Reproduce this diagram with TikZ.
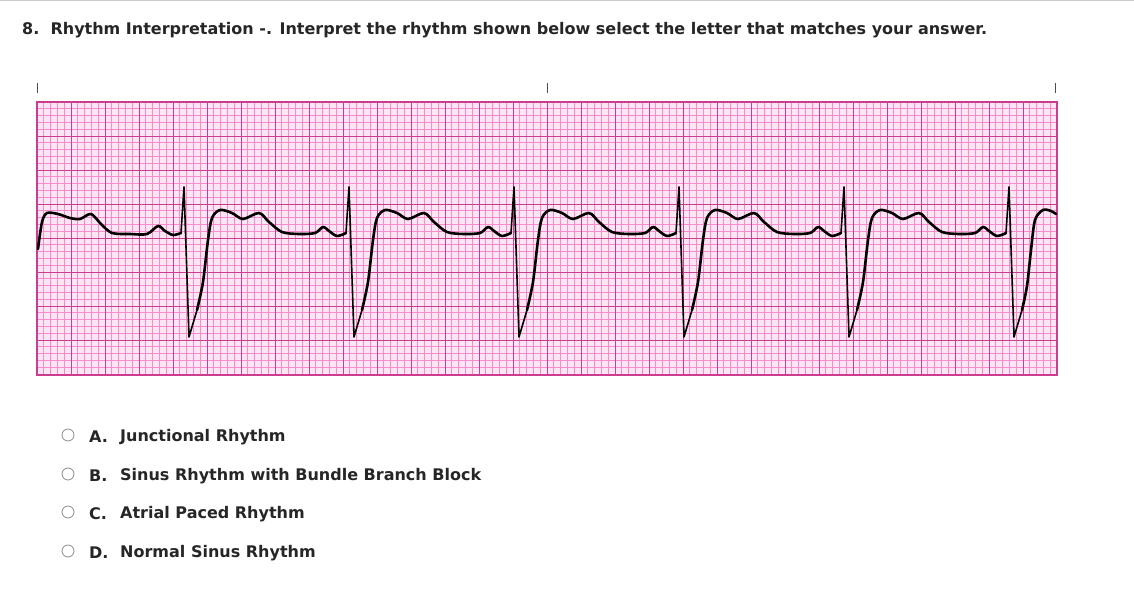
\documentclass[tikz,border=0pt]{standalone}
\usepackage{fontspec}
\setmainfont{DejaVu Sans}
\begin{document}
\begin{tikzpicture}[x=1pt,y=-1pt,
  txt/.style={anchor=west,inner sep=0pt,font=\fontsize{16}{18}\selectfont\bfseries,text=black!85},
  radio/.style={circle,draw=black!45,line width=0.8pt,minimum size=12pt,inner sep=0pt},
  ecg/.style={line width=2.6pt,line join=round,line cap=round},
  spike/.style={line width=1.6pt,line join=round,line cap=round},
  tick/.style={line width=0.8pt,black!70}]
\useasboundingbox (0,0) rectangle (1134,594);
\fill[white] (0,0) rectangle (1134,594);
\draw[black!20,line width=1pt] (0,1) -- (1134,1);
\node[txt] (title) at (22,30) {8.\ \ Rhythm Interpretation -. Interpret the rhythm shown below select the letter that matches your answer.};
% ticks
\coordinate (t1a) at (37,83); \coordinate (t1b) at (37,93);
\coordinate (t2a) at (547,83); \coordinate (t2b) at (547,93);
\coordinate (t3a) at (1055,83); \coordinate (t3b) at (1055,93);
\draw[tick] (t1a) -- (t1b); \draw[tick] (t2a) -- (t2b); \draw[tick] (t3a) -- (t3b);
% grid
\fill[magenta!10] (37,102) rectangle (1057,375);
\foreach \i in {0,...,150} {\draw[magenta!45!white,line width=0.8pt] ({37+\i*6.8},102) -- ({37+\i*6.8},375);}
\foreach \j in {0,...,40} {\draw[magenta!45!white,line width=0.8pt] (37,{102+\j*6.8}) -- (1057,{102+\j*6.8});}
\foreach \i in {0,...,30} {\draw[magenta!80!black!90,line width=1pt] ({37+\i*34},102) -- ({37+\i*34},375);}
\foreach \j in {0,...,8} {\draw[magenta!80!black!90,line width=1pt] (37,{102+\j*34}) -- (1057,{102+\j*34});}
\draw[magenta!80!black!90,line width=1.2pt] (37,102) rectangle (1057,375);
% ECG
\draw[ecg] plot[smooth,tension=0.5] coordinates {(38,249)(42,222)(47,213)(58,214)(70,218)(80,219)(91,214)(101,224)(112,233)(130,234)(147,234)(158,226)(165,231)(173,235)(181,233)};
\foreach \r [count=\k] in {184,349,514,679,844} {
  \draw[spike] (\r-3,233) -- (\r,187) -- (\r+5,337) -- (\r+13,310);
  \draw[ecg] plot[smooth,tension=0.5] coordinates {(\r+13,310)(\r+19,282)(\r+24,240)(\r+28,218)(\r+36,210)(\r+48,213)(\r+59,219)(\r+75,213)(\r+85,222)(\r+98,232)(\r+115,234)(\r+131,233)(\r+139,227)(\r+145,231)(\r+153,236)(\r+162,233)};
}
\draw[spike] (1006,233) -- (1009,187) -- (1014,337) -- (1022,310);
\draw[ecg] plot[smooth,tension=0.5] coordinates {(1022,310)(1027,286)(1031,250)(1035,220)(1043,210)(1051,211)(1056,214)};
% options
\foreach \y/\l/\t in {437/A/Junctional Rhythm,476/B/Sinus Rhythm with Bundle Branch Block,514/C/Atrial Paced Rhythm,553/D/Normal Sinus Rhythm} {
  \node[radio] (r\l) at (68,\y-2) {};
  \node[txt] (l\l) at (89,\y) {\l.};
  \node[txt] (o\l) at (120,\y) {\t};
}
\end{tikzpicture}
\end{document}
